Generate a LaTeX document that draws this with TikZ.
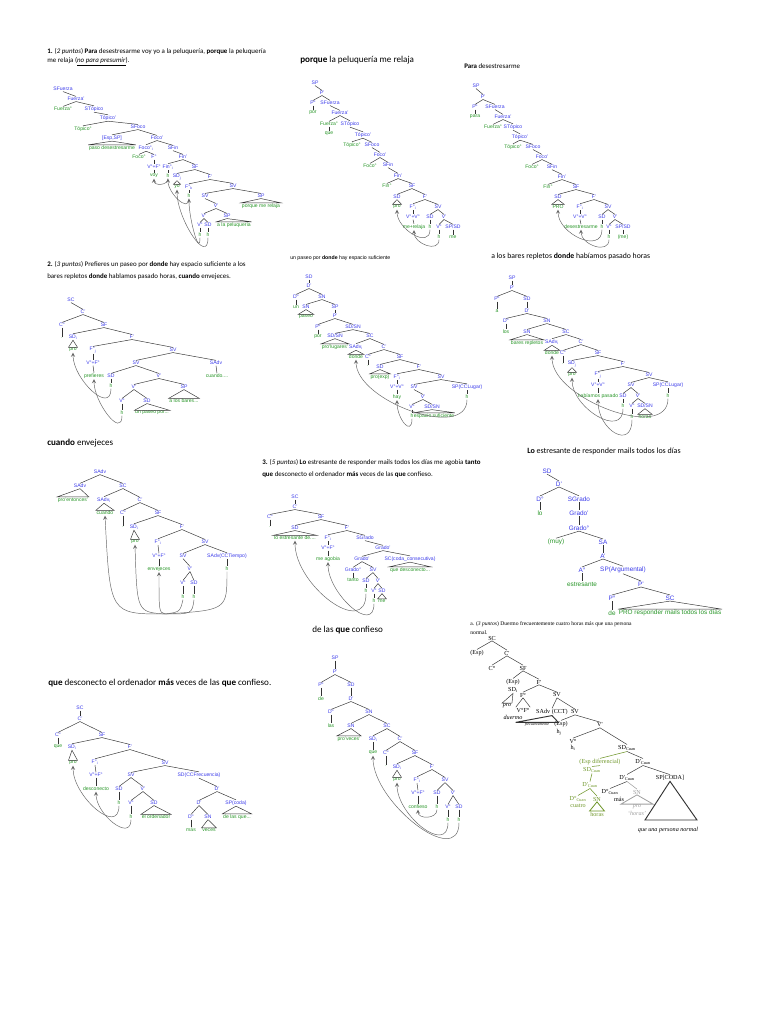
\documentclass[tikz,border=0pt]{standalone}
\usepackage{fontspec}
\setmainfont{Liberation Sans}
\newfontfamily\hdr{Carlito}
\newfontfamily\srf{Liberation Serif}
\definecolor{tb}{RGB}{60,60,235}
\definecolor{tg}{RGB}{40,150,40}
\definecolor{ol}{RGB}{110,150,40}
\definecolor{gy}{RGB}{160,160,160}
\newcommand\Tf{\fontsize{3.8}{4.4}\selectfont}
\newcommand\Nb[3]{\node[B] (#1) at (#2) {#3};}
\newcommand\Ng[3]{\node[G] (#1) at (#2) {#3};}
\newcommand\Nk[3]{\node[K] (#1) at (#2) {#3};}
\newcommand\Ed[2]{\draw[br] (#1.south) -- (#2.north);}
\newcommand\Tr[2]{\draw[br] (#1.south) -- (#2.north west) -- (#2.north east) -- cycle;}
\newcommand\Ar[2]{\draw[arr] (#1.south) to[out=-90,in=-90,looseness=1.3] (#2.south);}
\newcommand\Sb[1]{\textsubscript{#1}}
\begin{document}
\begin{tikzpicture}[x=0.75pt,y=-0.75pt,
 B/.style={text=tb,font=\Tf,inner sep=0.4pt},
 G/.style={text=tg,font=\Tf,inner sep=0.4pt},
 K/.style={text=black,font=\srf\fontsize{4.6}{5}\selectfont,inner sep=0.4pt},
 br/.style={black!80,line width=0.35pt},
 arr/.style={gray!80!black,line width=0.35pt,-stealth},
 hd/.style={font=\hdr\fontsize{5.2}{6}\selectfont,anchor=west,inner sep=0},
 hb/.style={font=\hdr\fontsize{6.8}{8}\selectfont,anchor=west,inner sep=0}]
\useasboundingbox (0,0) rectangle (768,1024);
\fill[white] (0,0) rectangle (768,1024);
% headers
\node[hd] (q1a) at (47,52) {\textbf{1.} (\emph{2 puntos}) \textbf{Para} desestresarme voy yo a la peluquería, \textbf{porque} la peluquería};
\node[hd] (q1b) at (47,62) {me relaja (\underline{\emph{no para presumir}}).};
\node[hb] (h1) at (300,60) {\textbf{porque} la peluquería me relaja};
\node[hd] (h2) at (464,66) {\textbf{Para} desestresarme};
\node[hd] (q2a) at (47,265) {\textbf{2.} (\emph{3 puntos}) Prefieres un paseo por \textbf{donde} hay espacio suficiente a los};
\node[hd] (q2b) at (47,277) {bares repletos \textbf{donde} hablamos pasado horas, \textbf{cuando} envejeces.};
\node[hd,font=\fontsize{3.9}{4.5}\selectfont] (h3) at (290,258) {un paseo por \textbf{donde} hay espacio suficiente};
\node[hd,font=\hdr\fontsize{5.8}{7}\selectfont] (h4) at (491,256) {a los bares repletos \textbf{donde} habíamos pasado horas};
\node[hb] (h5) at (47,443) {\textbf{cuando} envejeces};
\node[hd] (q3a) at (262,463) {\textbf{3.} (\emph{5 puntos}) \textbf{Lo} estresante de responder mails todos los días me agobia \textbf{tanto}};
\node[hd] (q3b) at (262,475) {\textbf{que} desconecto el ordenador \textbf{más} veces de las \textbf{que} confieso.};
\node[hd,font=\hdr\fontsize{6}{7}\selectfont] (h6) at (527,451) {\textbf{Lo} estresante de responder mails todos los días};
\node[hb] (h7) at (312,630) {de las \textbf{que} confieso};
\node[hb] (h8) at (48,683) {\textbf{que} desconecto el ordenador \textbf{más} veces de las \textbf{que} confieso.};
\node[hd,font=\srf\fontsize{4.2}{5}\selectfont] (q4a) at (470,624) {a. (\emph{3 puntos}) Duermo frecuentemente cuatro horas más que una persona};
\node[hd,font=\srf\fontsize{4.2}{5}\selectfont] (q4b) at (470,633) {normal.};
% ===== Tree A
\Nb{a1}{63,89}{SFuerza}\Nb{a2}{76,99}{Fuerza'}\Ng{a3}{63,109}{Fuerza°}\Nb{a4}{94,109}{STópico}
\Nb{a5}{108,118}{Tópico'}\Ng{a6}{83,129}{Tópico°}\Nb{a7}{138,127}{SFoco}\Nb{a8}{112,138}{[Esp,SP]}
\Ng{a9}{112,148}{paso desestresarme}\Nb{a10}{157,138}{Foco'}\Nb{a11}{146,148}{Foco°\Sb{i}}\Nb{a12}{173,148}{SFin}
\Ng{a13}{139,157}{Foco°}\Nb{a14}{154,157}{F°}\Nb{a15}{183,157}{Fin'}\Nb{a16}{154,167}{V°+F°}
\Nb{a17}{168,167}{Fin°\Sb{i}}\Nb{a18}{195,167}{SF}\Ng{a19}{154,176}{voy}\Ng{a20}{168,176}{h}
\Nb{a21}{177,177}{SD\Sb{j}}\Ng{a23}{177,187}{yo}\Nb{a24}{189,187}{F°\Sb{k}}\Nb{a22}{210,177}{F'}
\Ng{a26}{189,196}{h}\Nb{a25}{233,186}{SV}\Nb{a27}{205,196}{SV}\Nb{a28}{261,196}{SP}
\Ng{a29}{261,206}{porque me relaja}\Nb{a30}{216,206}{V'}\Nb{a31}{204,216}{V'}\Nb{a32}{227,216}{SP}
\Ng{a33}{234,225}{a la peluquería}\Nb{a34}{200,225}{V°}\Nb{a35}{208,225}{SD}\Ng{a36}{200,235}{h}\Ng{a37}{208,235}{h}
\Ed{a1}{a2}\Ed{a2}{a3}\Ed{a2}{a4}\Ed{a4}{a5}\Ed{a5}{a6}\Ed{a5}{a7}\Ed{a7}{a8}\Ed{a7}{a10}\Tr{a8}{a9}
\Ed{a10}{a11}\Ed{a10}{a12}\Ed{a11}{a13}\Ed{a11}{a14}\Ed{a14}{a16}\Ed{a16}{a19}\Ed{a12}{a15}\Ed{a15}{a17}\Ed{a15}{a18}
\Ed{a17}{a20}\Ed{a18}{a21}\Ed{a18}{a22}\Tr{a21}{a23}\Ed{a22}{a24}\Ed{a22}{a25}\Ed{a24}{a26}\Ed{a25}{a27}\Ed{a25}{a28}
\Tr{a28}{a29}\Ed{a27}{a30}\Ed{a30}{a31}\Ed{a30}{a32}\Tr{a32}{a33}\Ed{a31}{a34}\Ed{a31}{a35}\Ed{a34}{a36}\Ed{a35}{a37}
\Ar{a20}{a19}\Ar{a36}{a26}\Ar{a37}{a23}\draw[arr] (a26.south) to[out=-90,in=-90,looseness=1.3] (a20.south);
% ===== Tree B
\Nb{b1}{315,83}{SP}\Nb{b2}{322,93}{P'}\Nb{b3}{313,103}{P°}\Nb{b4}{330,103}{SFuerza}\Ng{b5}{313,113}{por}
\Nb{b6}{340,113}{Fuerza'}\Ng{b7}{329,124}{Fuerza°}\Nb{b8}{350,124}{STópico}\Ng{b9}{329,134}{que}
\Nb{b10}{363,135}{Tópico'}\Ng{b11}{352,145}{Tópico°}\Nb{b12}{372,145}{SFoco}\Nb{b13}{380,155}{Foco'}
\Ng{b14}{370,166}{Foco°}\Nb{b15}{388,165}{SFin}\Nb{b16}{398,176}{Fin'}\Ng{b17}{387,186}{Fin°}\Nb{b18}{412,186}{SF}
\Nb{b19}{397,197}{SD}\Nb{b20}{425,197}{F'}\Ng{b21}{397,207}{pro}\Nb{b22}{413,207}{F°\Sb{i}}\Nb{b23}{438,207}{SV}
\Nb{b24}{413,217}{V°+V°}\Nb{b25}{430,217}{SD}\Nb{b26}{444,217}{V'}\Ng{b27}{414,227}{me+relaja}\Ng{b28}{430,227}{h}
\Nb{b29}{439,227}{V°}\Nb{b30}{453,227}{SP/SD}\Ng{b31}{439,237}{h}\Ng{b32}{453,237}{me}
\Ed{b1}{b2}\Ed{b2}{b3}\Ed{b2}{b4}\Ed{b3}{b5}\Ed{b4}{b6}\Ed{b6}{b7}\Ed{b6}{b8}\Ed{b7}{b9}\Ed{b8}{b10}\Ed{b10}{b11}\Ed{b10}{b12}
\Ed{b12}{b13}\Ed{b13}{b14}\Ed{b13}{b15}\Ed{b15}{b16}\Ed{b16}{b17}\Ed{b16}{b18}\Ed{b18}{b19}\Ed{b18}{b20}\Tr{b19}{b21}
\Ed{b20}{b22}\Ed{b20}{b23}\Ed{b22}{b24}\Ed{b23}{b25}\Ed{b23}{b26}\Ed{b24}{b27}\Ed{b25}{b28}\Ed{b26}{b29}\Ed{b26}{b30}\Ed{b29}{b31}\Ed{b30}{b32}
\Ar{b28}{b21}\Ar{b31}{b27}
% ===== Tree C
\Nb{c1}{476,86}{SP}\Nb{c2}{483,97}{P'}\Nb{c3}{475,107}{P°}\Nb{c4}{495,107}{SFuerza}\Ng{c5}{475,117}{para}
\Nb{c6}{503,117}{Fuerza'}\Ng{c7}{493,127}{Fuerza°}\Nb{c8}{513,127}{STópico}\Nb{c10}{520,137}{Tópico'}
\Ng{c11}{513,147}{Tópico°}\Nb{c12}{533,147}{SFoco}\Nb{c13}{542,157}{Foco'}\Ng{c14}{532,167}{Foco°}\Nb{c15}{552,167}{SFin}
\Nb{c16}{562,177}{Fin'}\Ng{c17}{548,187}{Fin°}\Nb{c18}{576,187}{SF}\Nb{c19}{558,197}{SD}\Nb{c20}{594,197}{F'}
\Ng{c21}{558,207}{PRO}\Nb{c22}{580,207}{F°\Sb{i}}\Nb{c23}{608,207}{SV}\Nb{c24}{580,217}{V°+V°}\Nb{c25}{602,217}{SD}
\Nb{c26}{615,217}{V'}\Ng{c27}{581,227}{desestresarme}\Ng{c28}{602,227}{h}\Nb{c29}{609,227}{V°}\Nb{c30}{623,227}{SP/SD}
\Ng{c31}{609,237}{h}\Ng{c32}{623,237}{(me)}
\Ed{c1}{c2}\Ed{c2}{c3}\Ed{c2}{c4}\Ed{c3}{c5}\Ed{c4}{c6}\Ed{c6}{c7}\Ed{c6}{c8}\Ed{c8}{c10}\Ed{c10}{c11}\Ed{c10}{c12}
\Ed{c12}{c13}\Ed{c13}{c14}\Ed{c13}{c15}\Ed{c15}{c16}\Ed{c16}{c17}\Ed{c16}{c18}\Ed{c18}{c19}\Ed{c18}{c20}\Tr{c19}{c21}
\Ed{c20}{c22}\Ed{c20}{c23}\Ed{c22}{c24}\Ed{c23}{c25}\Ed{c23}{c26}\Ed{c24}{c27}\Ed{c25}{c28}\Ed{c26}{c29}\Ed{c26}{c30}\Ed{c29}{c31}\Ed{c30}{c32}
\Ar{c28}{c21}\Ar{c31}{c27}
% ===== Tree D
\Nb{d1}{71,300}{SC}\Nb{d2}{83,312}{C'}\Nb{d3}{62,325}{C°}\Nb{d4}{104,325}{SF}\Ng{d5}{62,339}{·}\Nb{d6}{73,337}{SD\Sb{i}}
\Nb{d7}{132,337}{F'}\Ng{d8}{73,350}{pro}\Nb{d9}{93,350}{F°\Sb{j}}\Nb{d10}{173,350}{SV}\Nb{d11}{93,363}{V°+F°}
\Nb{d12}{136,363}{SV}\Nb{d13}{216,363}{SAdv}\Ng{d14}{94,376}{prefieres}\Nb{d15}{111,376}{SD}\Nb{d16}{159,376}{V'}
\Ng{d17}{217,376}{cuando....}\Ng{d18}{111,386}{h}\Nb{d19}{134,387}{V'}\Nb{d20}{184,387}{SP}\Ng{d21}{184,401}{a los bares...}
\Nb{d22}{122,401}{V°}\Nb{d23}{147,401}{SD}\Ng{d24}{122,413}{h}\Ng{d25}{152,413}{un paseo por...}
\Ed{d1}{d2}\Ed{d2}{d3}\Ed{d2}{d4}\Ed{d3}{d5}\Ed{d4}{d6}\Ed{d4}{d7}\Tr{d6}{d8}\Ed{d7}{d9}\Ed{d7}{d10}\Ed{d9}{d11}\Ed{d11}{d14}
\Ed{d10}{d12}\Ed{d10}{d13}\Ed{d13}{d17}\Ed{d12}{d15}\Ed{d12}{d16}\Ed{d15}{d18}\Ed{d16}{d19}\Ed{d16}{d20}\Tr{d20}{d21}
\Ed{d19}{d22}\Ed{d19}{d23}\Ed{d22}{d24}\Tr{d23}{d25}
\Ar{d18}{d8}\Ar{d24}{d14}
% ===== Tree E
\Nb{e1}{309,277}{SD}\Nb{e2}{309,286}{D'}\Nb{e3}{296,297}{D°}\Nb{e4}{322,297}{SN}\Ng{e5}{296,307}{un}\Nb{e6}{306,307}{SN}
\Nb{e7}{335,307}{SP}\Ng{e8}{306,317}{paseo}\Nb{e9}{335,316}{P'}\Nb{e10}{318,327}{P°}\Nb{e11}{353,327}{SD/SN}
\Ng{e12}{318,337}{por}\Nb{e13}{335,336}{SD/SN}\Nb{e14}{370,336}{SC}\Ng{e15}{335,347}{pro'lugares'}\Nb{e16}{356,347}{SAdv\Sb{i}}
\Nb{e17}{384,347}{C'}\Ng{e18}{356,357}{donde}\Nb{e19}{368,357}{C°}\Nb{e20}{400,357}{SF}\Ng{e21}{368,367}{·}
\Nb{e22}{380,367}{SD}\Nb{e23}{419,367}{F'}\Ng{e24}{380,377}{pro(exp)}\Nb{e25}{397,377}{F°\Sb{i}}\Nb{e26}{441,377}{SV}
\Nb{e27}{397,387}{V°+V°}\Nb{e28}{414,387}{SV}\Nb{e29}{467,387}{SP(CCLugar)}\Ng{e30}{397,397}{hay}\Nb{e31}{423,397}{V'}
\Ng{e32}{467,397}{h}\Nb{e33}{412,407}{V°}\Nb{e34}{432,407}{SD/SN}\Ng{e35}{412,416}{h}\Ng{e36}{434,416}{espacio suficiente}
\Ed{e1}{e2}\Ed{e2}{e3}\Ed{e2}{e4}\Ed{e3}{e5}\Ed{e4}{e6}\Ed{e4}{e7}\Tr{e6}{e8}\Ed{e7}{e9}\Ed{e9}{e10}\Ed{e9}{e11}\Ed{e10}{e12}
\Ed{e11}{e13}\Ed{e11}{e14}\Tr{e13}{e15}\Ed{e14}{e16}\Ed{e14}{e17}\Tr{e16}{e18}\Ed{e17}{e19}\Ed{e17}{e20}\Ed{e19}{e21}
\Ed{e20}{e22}\Ed{e20}{e23}\Tr{e22}{e24}\Ed{e23}{e25}\Ed{e23}{e26}\Ed{e25}{e27}\Ed{e27}{e30}\Ed{e26}{e28}\Ed{e26}{e29}\Ed{e29}{e32}
\Ed{e28}{e31}\Ed{e31}{e33}\Ed{e31}{e34}\Ed{e33}{e35}\Tr{e34}{e36}
\draw[arr] (e32.south) to[out=-90,in=-90,looseness=0.9] (e18.south);\draw[arr] (e35.south) to[out=-90,in=-90,looseness=2] (e30.south);
% ===== Tree F
\Nb{f1}{512,278}{SP}\Nb{f2}{512,288}{P'}\Nb{f3}{497,299}{P°}\Nb{f4}{527,299}{SD}\Ng{f5}{497,311}{a}\Nb{f6}{527,311}{D'}
\Nb{f7}{506,321}{D°}\Nb{f8}{547,321}{SN}\Ng{f9}{506,332}{los}\Nb{f10}{527,332}{SN}\Nb{f11}{566,332}{SC}
\Ng{f12}{527,343}{bares repletos}\Nb{f13}{552,342}{SAdv\Sb{i}}\Nb{f14}{581,342}{C'}\Ng{f15}{552,353}{donde}
\Nb{f16}{563,353}{C°}\Nb{f17}{598,353}{SF}\Ng{f18}{563,365}{·}\Nb{f19}{572,364}{SD\Sb{j}}\Nb{f20}{623,364}{F'}
\Ng{f21}{572,375}{pro}\Nb{f22}{598,375}{F°\Sb{j}}\Nb{f23}{649,375}{SV}\Nb{f24}{598,385}{V°+V°}\Nb{f25}{631,385}{SV}
\Nb{f26}{668,385}{SP(CCLugar)}\Ng{f27}{598,396}{habíamos pasado}\Nb{f28}{623,396}{SD}\Nb{f29}{638,396}{V'}\Ng{f30}{668,396}{h}
\Ng{f31}{623,406}{h}\Nb{f32}{632,406}{V°}\Nb{f33}{645,406}{SD/SN}\Ng{f34}{632,417}{h}\Ng{f35}{645,417}{horas}
\Ed{f1}{f2}\Ed{f2}{f3}\Ed{f2}{f4}\Ed{f3}{f5}\Ed{f4}{f6}\Ed{f6}{f7}\Ed{f6}{f8}\Ed{f7}{f9}\Ed{f8}{f10}\Ed{f8}{f11}\Tr{f10}{f12}
\Ed{f11}{f13}\Ed{f11}{f14}\Tr{f13}{f15}\Ed{f14}{f16}\Ed{f14}{f17}\Ed{f16}{f18}\Ed{f17}{f19}\Ed{f17}{f20}\Tr{f19}{f21}
\Ed{f20}{f22}\Ed{f20}{f23}\Ed{f22}{f24}\Ed{f24}{f27}\Ed{f23}{f25}\Ed{f23}{f26}\Ed{f26}{f30}\Ed{f25}{f28}\Ed{f25}{f29}
\Ed{f28}{f31}\Ed{f29}{f32}\Ed{f29}{f33}\Ed{f32}{f34}\Tr{f33}{f35}
\draw[arr] (f30.south) to[out=-90,in=-90,looseness=0.9] (f15.south);\Ar{f31}{f21}\draw[arr] (f34.south) to[out=-90,in=-90,looseness=2] (f27.south);
% ===== Tree G
\Nb{g1}{100,472}{SAdv}\Nb{g2}{80,486}{SAdv}\Nb{g3}{123,486}{SC}\Ng{g4}{73,500}{pro'entonces'}\Nb{g5}{104,500}{SAdv\Sb{i}}
\Nb{g6}{140,500}{C'}\Ng{g7}{105,513}{cuando}\Nb{g8}{123,513}{C°}\Nb{g9}{158,513}{SF}\Ng{g10}{123,528}{·}
\Nb{g11}{134,527}{SD\Sb{i}}\Nb{g12}{182,527}{F'}\Ng{g13}{135,542}{pro}\Nb{g14}{158,542}{F°\Sb{i}}\Nb{g15}{205,542}{SV}
\Nb{g16}{159,556}{V°+F°}\Nb{g17}{183,556}{SV}\Nb{g18}{227,556}{SAdv(CCTiempo)}\Ng{g19}{159,569}{envejeces}
\Nb{g20}{190,569}{V'}\Ng{g21}{227,569}{h}\Nb{g22}{183,583}{V°}\Nb{g23}{194,583}{SD}\Ng{g24}{183,597}{h}\Ng{g25}{194,597}{h}
\Ed{g1}{g2}\Ed{g1}{g3}\Tr{g2}{g4}\Ed{g3}{g5}\Ed{g3}{g6}\Tr{g5}{g7}\Ed{g6}{g8}\Ed{g6}{g9}\Ed{g8}{g10}\Ed{g9}{g11}\Ed{g9}{g12}
\Tr{g11}{g13}\Ed{g12}{g14}\Ed{g12}{g15}\Ed{g14}{g16}\Ed{g16}{g19}\Ed{g15}{g17}\Ed{g15}{g18}\Ed{g18}{g21}\Ed{g17}{g20}
\Ed{g20}{g22}\Ed{g20}{g23}\Ed{g22}{g24}\Ed{g23}{g25}
\coordinate (gm) at (165,614);
\draw[arr] (g21.south) .. controls (227,610) .. (gm) .. controls (110,614) .. (g7.south);
\draw[arr] (g24.south) .. controls (180,612) .. (gm) .. controls (137,612) .. (g13.south);
\draw[arr] (g25.south) .. controls (192,614) .. (gm) .. controls (159,612) .. (g19.south);
% ===== Tree H
\Nb{h1}{295,497}{SC}\Nb{h2}{295,507}{C'}\Nb{h3}{270,517}{C°}\Nb{h4}{321,517}{SF}\Ng{h5}{270,528}{·}\Nb{h6}{295,528}{SD}
\Nb{h7}{347,528}{F'}\Ng{h8}{295,538}{lo estresante de....}\Nb{h9}{328,538}{F°\Sb{i}}\Nb{h10}{365,538}{SGrado}
\Nb{h11}{328,548}{V°+F°}\Nb{h12}{383,548}{Grado'}\Ng{h13}{328,559}{me agobia}\Nb{h14}{362,559}{Grado'}
\Nb{h15}{410,559}{SC(coda\_consecutiva)}\Ng{h16}{410,570}{que desconecto...}\Nb{h17}{353,570}{Grado°}\Nb{h18}{373,570}{SV}
\Ng{h19}{353,580}{tanto}\Nb{h20}{366,581}{SD}\Nb{h21}{378,581}{V'}\Ng{h22}{366,591}{h}\Nb{h23}{374,591}{V°}
\Nb{h24}{382,591}{SD}\Ng{h25}{374,601}{h}\Ng{h26}{382,601}{me}
\Ed{h1}{h2}\Ed{h2}{h3}\Ed{h2}{h4}\Ed{h3}{h5}\Ed{h4}{h6}\Ed{h4}{h7}\Tr{h6}{h8}\Ed{h7}{h9}\Ed{h7}{h10}\Ed{h9}{h11}\Ed{h11}{h13}
\Ed{h10}{h12}\Ed{h12}{h14}\Ed{h12}{h15}\Tr{h15}{h16}\Ed{h14}{h17}\Ed{h14}{h18}\Ed{h17}{h19}\Ed{h18}{h20}\Ed{h18}{h21}
\Ed{h20}{h22}\Ed{h21}{h23}\Ed{h21}{h24}\Ed{h23}{h25}\Tr{h24}{h26}
\Ar{h22}{h8}\Ar{h25}{h13}
% ===== Tree I (larger)
\begin{scope}[B/.append style={font=\fontsize{4.8}{5.5}\selectfont},G/.append style={font=\fontsize{4.8}{5.5}\selectfont}]
\Nb{i1}{547,471}{SD}\Nb{i2}{559,484}{D'}\Nb{i3}{540,499}{D°}\Nb{i4}{579,499}{SGrado}\Ng{i5}{540,513}{lo}
\Nb{i6}{579,513}{Grado'}\Nb{i7}{579,528}{Grado°}\Ng{i8}{556,542}{(muy)}\Nb{i9}{603,542}{SA}\Nb{i10}{603,556}{A'}
\Nb{i11}{582,570}{A°}\Nb{i12}{623,570}{SP(Argumental)}\Ng{i13}{582,584}{estresante}\Nb{i14}{641,584}{P'}
\Nb{i15}{612,598}{P°}\Nb{i16}{670,598}{SC}\Ng{i17}{612,613}{de}\Ng{i18}{670,613}{PRO responder mails todos los días}
\end{scope}
\Ed{i1}{i2}\Ed{i2}{i3}\Ed{i2}{i4}\Ed{i3}{i5}\Ed{i4}{i6}\Ed{i6}{i7}\Ed{i7}{i8}\Ed{i7}{i9}\Ed{i9}{i10}\Ed{i10}{i11}\Ed{i10}{i12}
\Ed{i11}{i13}\Ed{i12}{i14}\Ed{i14}{i15}\Ed{i14}{i16}\Ed{i15}{i17}\Tr{i16}{i18}
% ===== Tree J
\Nb{j1}{80,708}{SC}\Nb{j2}{80,719}{C'}\Nb{j3}{58,735}{C°}\Nb{j4}{102,735}{SF}\Ng{j5}{58,747}{que}\Nb{j6}{72,747}{SD\Sb{i}}
\Nb{j7}{130,747}{F'}\Ng{j8}{73,763}{pro}\Nb{j9}{95,762}{F°\Sb{i}}\Nb{j10}{165,763}{SV}\Nb{j11}{96,775}{V°+F°}
\Nb{j12}{131,775}{SV}\Nb{j13}{199,775}{SD(CCFrecuencia)}\Ng{j14}{96,789}{desconecto}\Nb{j15}{119,789}{SD}
\Nb{j16}{143,789}{V'}\Nb{j17}{217,789}{D'}\Ng{j18}{119,803}{h}\Nb{j19}{131,803}{V°}\Nb{j20}{154,803}{SD}
\Nb{j21}{199,803}{D'}\Nb{j22}{236,803}{SP(coda)}\Ng{j23}{131,817}{h}\Ng{j24}{156,817}{el ordenador}
\Nb{j25}{191,817}{D°}\Nb{j26}{208,817}{SN}\Ng{j27}{237,817}{de las que...}\Ng{j28}{191,830}{más}\Ng{j29}{209,830}{veces}
\Ed{j1}{j2}\Ed{j2}{j3}\Ed{j2}{j4}\Ed{j3}{j5}\Ed{j4}{j6}\Ed{j4}{j7}\Tr{j6}{j8}\Ed{j7}{j9}\Ed{j7}{j10}\Ed{j9}{j11}\Ed{j11}{j14}
\Ed{j10}{j12}\Ed{j10}{j13}\Ed{j12}{j15}\Ed{j12}{j16}\Ed{j15}{j18}\Ed{j16}{j19}\Ed{j16}{j20}\Ed{j19}{j23}\Tr{j20}{j24}
\Ed{j13}{j17}\Ed{j17}{j21}\Ed{j17}{j22}\Ed{j21}{j25}\Ed{j21}{j26}\Tr{j22}{j27}\Ed{j25}{j28}\Tr{j26}{j29}
\Ar{j18}{j8}\Ar{j23}{j14}
% ===== Tree K
\Nb{k1}{335,658}{SP}\Nb{k2}{335,672}{P'}\Nb{k3}{321,685}{P°}\Nb{k4}{351,685}{SD}\Ng{k5}{321,699}{de}\Nb{k6}{351,699}{D'}
\Nb{k7}{331,712}{D°}\Nb{k8}{369,712}{SN}\Ng{k9}{331,726}{las}\Nb{k10}{351,726}{SN}\Nb{k11}{387,726}{SC}
\Ng{k12}{349,739}{pro'veces'}\Nb{k13}{373,739}{SD\Sb{i}}\Nb{k14}{400,739}{C'}\Ng{k15}{373,753}{que}\Nb{k16}{386,753}{C°}
\Nb{k17}{415,753}{SF}\Ng{k18}{386,767}{·}\Nb{k19}{397,767}{SD\Sb{i}}\Nb{k20}{432,767}{F'}\Ng{k21}{397,780}{pro}
\Nb{k22}{417,780}{F°\Sb{i}}\Nb{k23}{445,780}{SV}\Nb{k24}{418,793}{V°+F°}\Nb{k25}{437,793}{SD}\Nb{k26}{453,793}{V'}
\Ng{k27}{418,807}{confieso}\Ng{k28}{437,807}{h}\Nb{k29}{448,807}{V°}\Nb{k30}{459,807}{SD}\Ng{k31}{448,820}{h}\Ng{k32}{459,820}{h}
\Ed{k1}{k2}\Ed{k2}{k3}\Ed{k2}{k4}\Ed{k3}{k5}\Ed{k4}{k6}\Ed{k6}{k7}\Ed{k6}{k8}\Ed{k7}{k9}\Ed{k8}{k10}\Ed{k8}{k11}\Tr{k10}{k12}
\Ed{k11}{k13}\Ed{k11}{k14}\Ed{k13}{k15}\Ed{k14}{k16}\Ed{k14}{k17}\Ed{k16}{k18}\Ed{k17}{k19}\Ed{k17}{k20}\Tr{k19}{k21}
\Ed{k20}{k22}\Ed{k20}{k23}\Ed{k22}{k24}\Ed{k24}{k27}\Ed{k23}{k25}\Ed{k23}{k26}\Ed{k25}{k28}\Ed{k26}{k29}\Ed{k26}{k30}
\Ed{k29}{k31}\Ed{k30}{k32}
\draw[arr] (k32.south) to[out=-90,in=-90,looseness=1.1] (k15.south);\Ar{k28}{k27}\Ar{k31}{k21}
% ===== Tree L (black)
\Nk{l1}{492,638}{SC}\Nk{l2}{477,653}{(Esp)}\Nk{l3}{507,653}{C'}\Nk{l4}{492,668}{C°}\Nk{l5}{523,668}{SF}
\Nk{l6}{513,682}{(Esp)}\Nk{l6b}{513,690}{SD\Sb{i}}\Nk{l7}{539,682}{F'}\node[K,font=\srf\itshape\fontsize{4.6}{5}\selectfont] (l8) at (507,706) {pro};
\Nk{l9}{523,695}{F°}\Nk{l10}{557,695}{SV}\Nk{l11}{523,710}{V°F°}\node[K,font=\srf\itshape\fontsize{4.6}{5}\selectfont] (l12) at (513,717) {duermo};
\Nk{l13}{552,712}{SAdv (CCT)}\Nk{l14}{575,712}{SV}\node[K,font=\srf\itshape\fontsize{3}{4}\selectfont] (l15) at (537,725) {frecuentemente};
\Nk{l16}{561,724}{(Esp)}\Nk{l17}{559,732}{h\Sb{j}}\Nk{l18}{600,725}{V'}\Nk{l19}{573,741}{V°}\Nk{l20}{573,748}{h\Sb{i}}
\Nk{l21}{627,748}{SD\Sb{Cuan}}\node[K,text=ol] (l22) at (600,762) {(Esp diferencial)};\Nk{l23}{643,762}{D'\Sb{Cuan}}
\node[K,text=ol] (l24) at (592,770) {SD\Sb{Cuan}};\node[K,text=ol] (l25) at (590,785) {D'\Sb{Cuan}};
\Nk{l26}{627,778}{D'\Sb{Cuan}}\Nk{l27}{670,778}{SP[CODA]}\Nk{l28}{610,792}{D°\Sb{Cuan}}\Nk{l29}{619,799}{más}
\node[K,text=gy] (l30) at (637,792) {SN};\node[K,text=ol] (l31) at (578,799) {D°\Sb{Cuan}};\node[K,text=ol] (l32) at (597,799) {SN};
\node[K,text=ol] (l33) at (578,806) {cuatro};\node[K,text=ol] (l34) at (597,814) {horas};
\node[K,text=gy,font=\srf\itshape\fontsize{4.6}{5}\selectfont] (l35) at (637,807) {pro};\node[K,text=gy,font=\srf\itshape\fontsize{4.6}{5}\selectfont] (l36) at (637,813) {‘horas’};
\node[K,font=\srf\itshape\fontsize{4.6}{5}\selectfont] (l37) at (668,830) {que una persona normal};
\Ed{l1}{l2}\Ed{l1}{l3}\Ed{l3}{l4}\Ed{l3}{l5}\Ed{l5}{l6}\Ed{l5}{l7}\Tr{l6b}{l8}\Ed{l7}{l9}\Ed{l7}{l10}
\draw[br] (l9.south) -- (l11.north west);\draw[br] (l9.south) -- (l11.north east);
\Ed{l10}{l13}\Ed{l10}{l14}\draw[br,line width=0.7pt] (l13.south) -- ([xshift=-16]l15.north) -- ([xshift=16]l15.north) -- cycle;
\Ed{l14}{l16}\Ed{l14}{l18}\Ed{l18}{l19}\Ed{l18}{l21}\draw[ol] (l21.south) -- (l22.north);\Ed{l21}{l23}
\draw[ol] (l22.south) -- (l24.north);\draw[ol] (l24.south) -- (l25.north);\draw[ol] (l25.south) -- (l31.north);\draw[ol] (l25.south) -- (l32.north);
\draw[ol,line width=0.6pt] (l32.south) -- (l34.north west) -- (l34.north east) -- cycle;
\Ed{l23}{l26}\Ed{l23}{l27}\Ed{l26}{l28}\draw[gy] (l26.south) -- (l30.north);
\draw[gy,line width=0.6pt] (l30.south) -- ([xshift=-12]l35.north) -- ([xshift=12]l35.north) -- cycle;
\coordinate (lb1) at (645,820);\coordinate (lb2) at (697,820);
\draw[br,line width=0.7pt] (l27.south) -- (lb1) -- (lb2) -- cycle;
\end{tikzpicture}
\end{document}
